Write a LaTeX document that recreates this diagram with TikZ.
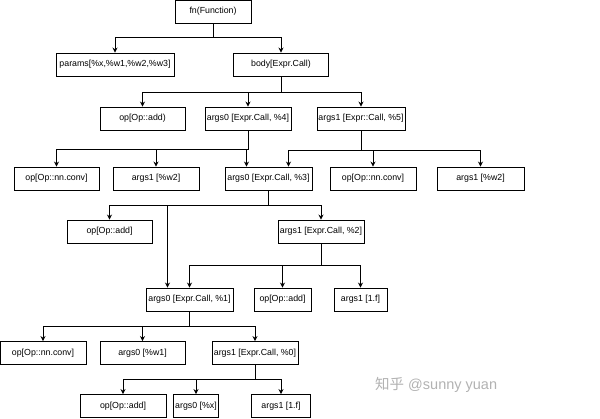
\documentclass[tikz,border=0pt]{standalone}
\usetikzlibrary{arrows.meta}
\usepackage{fontspec}
\setmainfont{Liberation Sans}
\newfontfamily\cjk{Noto Sans CJK SC}
\begin{document}
\begin{tikzpicture}[x=1pt,y=-1pt,
 box/.style={draw,line width=0.9pt,minimum height=23pt,inner sep=0pt,font=\fontsize{8.8}{10}\selectfont},
 arr/.style={draw,line width=0.9pt,-{Stealth[length=5pt,width=5pt]}}]
\useasboundingbox (0,0) rectangle (600,418);
\node[box,minimum width=76pt] (fn) at (213,11.5) {fn(Function)};
\node[box,minimum width=118pt] (params) at (115,64.5) {params[\%x,\%w1,\%w2,\%w3]};
\node[box,minimum width=95pt] (body) at (281,64.5) {body[Expr.Call)};
\node[box,minimum width=85pt] (op1) at (142.5,118.5) {op[Op::add)};
\node[box,minimum width=86pt] (a04) at (248,118.5) {args0 [Expr.Call, \%4]};
\node[box,minimum width=88pt] (a15) at (361,118.5) {args1 [Expr::Call, \%5]};
\node[box,minimum width=85pt] (conv1) at (56.5,178.5) {op[Op::nn.conv]};
\node[box,minimum width=86pt] (w2a) at (156,178.5) {args1 [\%w2]};
\node[box,minimum width=87pt] (a03) at (268.5,178.5) {args0 [Expr.Call, \%3]};
\node[box,minimum width=86pt] (conv2) at (373,178.5) {op[Op::nn.conv]};
\node[box,minimum width=87pt] (w2b) at (480.5,178.5) {args1 [\%w2]};
\node[box,minimum width=85pt] (add2) at (109.5,231.5) {op[Op::add]};
\node[box,minimum width=86pt] (a12) at (321,231.5) {args1 [Expr.Call, \%2]};
\node[box,minimum width=87pt] (a01) at (189.5,299.5) {args0 [Expr.Call, \%1]};
\node[box,minimum width=57pt] (add3) at (282.5,299.5) {op[Op::add]};
\node[box,minimum width=53pt] (f1) at (360.5,299.5) {args1 [1.f]};
\node[box,minimum width=86pt] (conv3) at (43,353) {op[Op::nn.conv]};
\node[box,minimum width=85pt] (w1) at (142.5,353) {args0 [\%w1]};
\node[box,minimum width=86pt] (a10) at (255,353) {args1 [Expr.Call, \%0]};
\node[box,minimum width=86pt] (add4) at (123,406) {op[Op::add]};
\node[box,minimum width=45pt] (ax) at (196,406) {args0 [\%x]};
\node[box,minimum width=59pt] (f2) at (281,406) {args1 [1.f]};
\node[text=gray!60,font=\fontsize{14.5}{16}\selectfont,anchor=west,inner sep=0pt] (wm) at (375,385) {{\cjk 知乎} @sunny yuan};
\coordinate (b1) at (0,37); \coordinate (b2) at (0,92);
\coordinate (b3) at (0,149); \coordinate (b4) at (0,150);
\coordinate (b5) at (0,205); \coordinate (b6) at (0,265);
\coordinate (b7) at (0,326); \coordinate (b8) at (0,379);
\foreach \p/\c/\b in {fn/params/b1,fn/body/b1,body/op1/b2,body/a04/b2,body/a15/b2,
  a04/conv1/b3,a04/w2a/b3,a15/conv2/b4,a15/w2b/b4,a03/add2/b5,a03/a12/b5,
  a12/add3/b6,a12/f1/b6,a01/conv3/b7,a01/w1/b7,a01/a10/b7,a10/add4/b8,a10/ax/b8,a10/f2/b8}
  \draw[arr] (\p.south) -- (\p.south |- \b) -| (\c.north);
\coordinate (t1) at ([xshift=-22pt]a03.north);
\coordinate (t2) at ([xshift=20pt]a03.north);
\coordinate (t3) at ([xshift=-22pt]a01.north);
\coordinate (t4) at (a01.north);
\draw[arr] (a04.south) -- (a04.south |- b3) -| (t1);
\draw[arr] (a15.south) -- (a15.south |- b4) -| (t2);
\draw[arr] (a03.south) -- (a03.south |- b5) -| (t3);
\draw[arr] (a12.south) -- (a12.south |- b6) -| (t4);
\end{tikzpicture}
\end{document}
